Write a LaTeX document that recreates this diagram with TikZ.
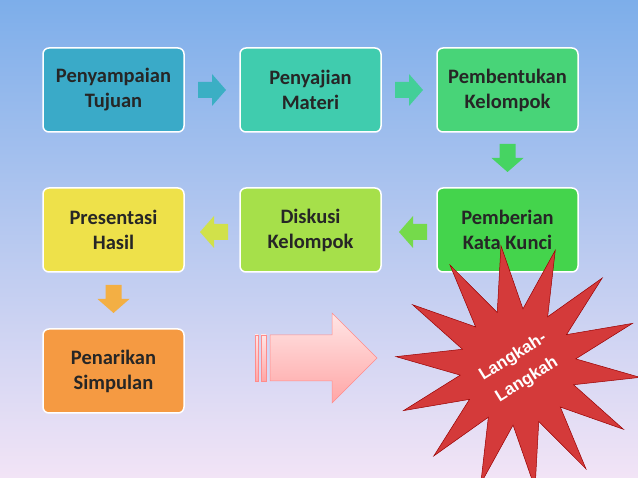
\documentclass[tikz,border=0pt]{standalone}
\usepackage{fontspec}
\setmainfont{Carlito}
\newfontfamily\arialb{Liberation Sans}
\usetikzlibrary{shapes.geometric}
\definecolor{bgtop}{HTML}{7DAEEA}
\definecolor{bgbot}{HTML}{F2E4F6}
\definecolor{cA}{HTML}{3AAAC8}
\definecolor{cB}{HTML}{40CCAE}
\definecolor{cC}{HTML}{48D478}
\definecolor{cD}{HTML}{44D44C}
\definecolor{cE}{HTML}{A6E04A}
\definecolor{cF}{HTML}{EEE14A}
\definecolor{cG}{HTML}{F59A42}
\definecolor{starred}{HTML}{D43A3A}
\newcommand\myrarr[3]{\fill[#1] (#2-14,#3-8) -- (#2,#3-8) -- (#2,#3-16) -- (#2+14,#3) -- (#2,#3+16) -- (#2,#3+8) -- (#2-14,#3+8) -- cycle;}
\newcommand\mylarr[3]{\fill[#1] (#2+14,#3-8) -- (#2,#3-8) -- (#2,#3-16) -- (#2-14,#3) -- (#2,#3+16) -- (#2,#3+8) -- (#2+14,#3+8) -- cycle;}
\newcommand\mydarr[3]{\fill[#1] (#2-8,#3-14) -- (#2-8,#3) -- (#2-16,#3) -- (#2,#3+14) -- (#2+16,#3) -- (#2+8,#3) -- (#2+8,#3-14) -- cycle;}
\begin{document}
\begin{tikzpicture}[x=1pt,y=-1pt,
  stepbox/.style={draw=white,line width=1.5pt,rounded corners=6pt,minimum width=141pt,minimum height=84pt,align=center,font=\bfseries\fontsize{20.5}{25}\selectfont,text=black!85}]
\shade[top color=bgtop,bottom color=bgbot] (0,0) rectangle (638,478);
\useasboundingbox (0,0) rectangle (638,478);
\node[stepbox,fill=cA] (b1) at (113.5,90) {Penyampaian\\Tujuan};
\node[stepbox,fill=cB] (b2) at (310.5,90) {Penyajian\\Materi};
\node[stepbox,fill=cC] (b3) at (507.5,90) {Pembentukan\\Kelompok};
\node[stepbox,fill=cD] (b4) at (507.5,230) {Pemberian\\Kata Kunci};
\node[stepbox,fill=cE] (b5) at (310.5,230) {Diskusi\\Kelompok};
\node[stepbox,fill=cF] (b6) at (113.5,230) {Presentasi\\Hasil};
\node[stepbox,fill=cG] (b7) at (113.5,371) {Penarikan\\Simpulan};
\myrarr{cA!85!cB}{212}{90}
\myrarr{cB!60!cC}{409}{90}
\mydarr{cC!50!cD}{507.5}{158}
\mylarr{cD!50!cE}{413}{232}
\mylarr{cE!40!cF}{214}{232}
\mydarr{cF!30!cG}{113.5}{299}
% big arrow
\shade[top color=red!10,bottom color=red!35,draw=red!45,line width=0.5pt]
 (270,335) -- (332,335) -- (332,313) -- (377,358) -- (332,403) -- (332,381) -- (270,381) -- cycle;
\shade[top color=red!10,bottom color=red!35,draw=red!45,line width=0.5pt] (255,335) rectangle (258,381);
\shade[top color=red!10,bottom color=red!35,draw=red!45,line width=0.5pt] (261,335) rectangle (266,381);
% star
\node[star,star points=14,star point ratio=2.1,minimum size=245pt,fill=starred,draw=red!60!black,line width=0.5pt,rotate=8] (st) at (518,367) {};
\node[rotate=32,text=white,font=\arialb\bfseries\fontsize{17}{20}\selectfont] (sl1) at (513,357) {Langkah-};
\node[rotate=32,text=white,font=\arialb\bfseries\fontsize{17}{20}\selectfont] (sl2) at (527,380) {Langkah};
\end{tikzpicture}
\end{document}
